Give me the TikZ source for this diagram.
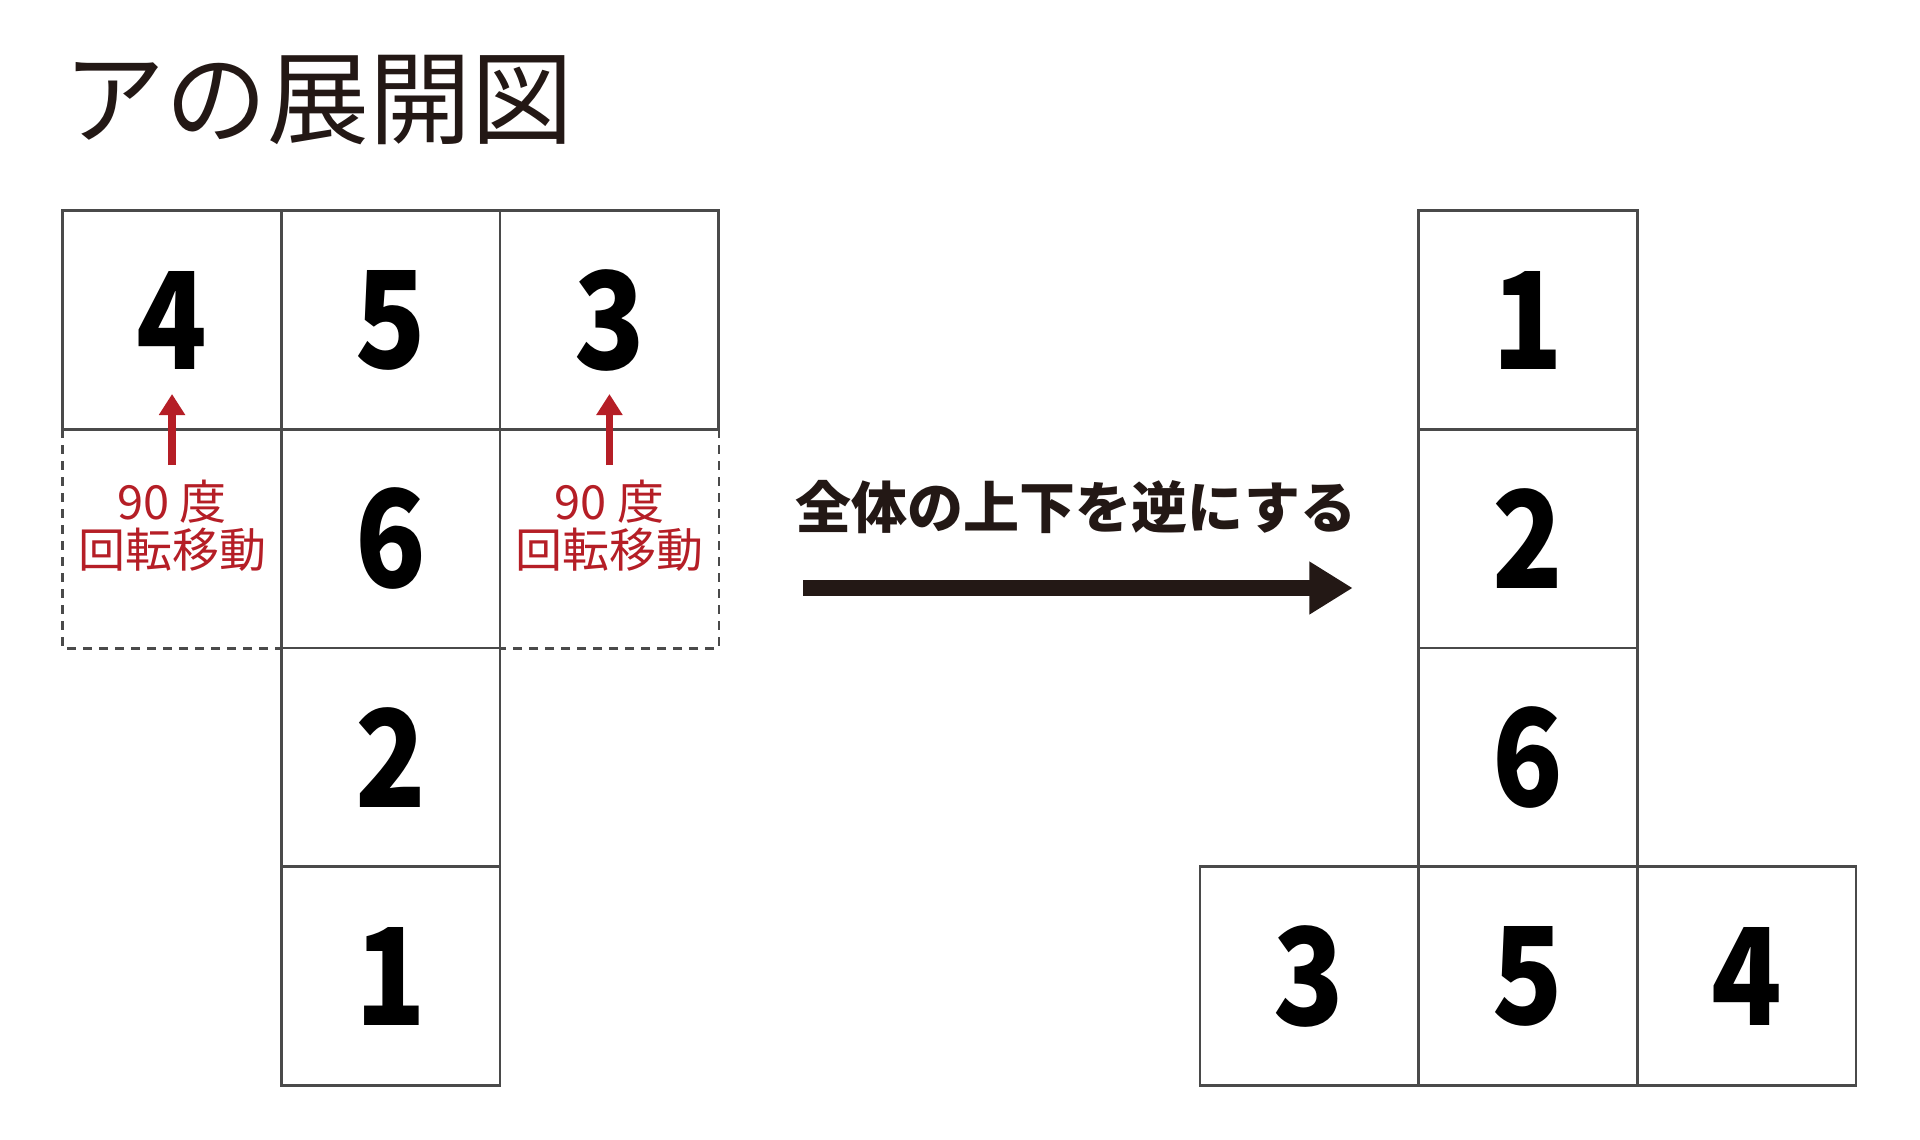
\documentclass[tikz,border=0pt]{standalone}
\usepackage{fontspec}
\setmainfont{Noto Sans CJK JP}
\usetikzlibrary{arrows.meta}
\definecolor{ink}{RGB}{35,24,21}
\definecolor{gridc}{RGB}{74,74,74}
\definecolor{redc}{RGB}{181,30,38}
\newcommand{\dig}[1]{\scalebox{0.86}[1]{#1}}
\begin{document}
\begin{tikzpicture}[x=1pt,y=-1pt,
  cell/.style={draw=gridc,line width=2.7pt,minimum size=218.7pt,inner sep=0pt,
    font=\fontsize{135}{135}\selectfont\bfseries,text=black},
  freecell/.style={minimum size=218.7pt,inner sep=0pt},
  dashedge/.style={draw=gridc,line width=2.7pt,dash pattern=on 9pt off 7pt},
  redlab/.style={text=redc,align=center,font=\fontsize{47}{48}\selectfont,inner sep=0pt},
  redarr/.style={draw=redc,line width=7.6pt,-{Triangle[length=21pt,width=25pt]}},
  bigarr/.style={draw=ink,line width=16pt,-{Triangle[length=43.4pt,width=50pt]}},
  title/.style={text=ink,font=\fontsize{102}{102}\selectfont,inner sep=0pt,anchor=west},
  biglab/.style={text=ink,font=\fontsize{56}{56}\selectfont\bfseries,inner sep=0pt}
]
\useasboundingbox[fill=white] (0,0) rectangle (1920,1140);

\node[title] (ttl) at (63,100) {アの展開図};

% left net
\node[cell] (L4) at (172.05,320.05) {\dig{4}};
\node[cell] (L5) at (390.75,320.05) {\dig{5}};
\node[cell] (L3) at (609.45,320.05) {\dig{3}};
\node[cell] (L6) at (390.75,538.75) {\dig{6}};
\node[cell] (L2) at (390.75,757.45) {\dig{2}};
\node[cell] (L1) at (390.75,976.15) {\dig{1}};
\node[freecell] (LA) at (172.05,538.75) {};
\node[freecell] (LB) at (609.45,538.75) {};
\draw[dashedge] (LA.north west) -- (LA.south west) -- (LA.south east);
\draw[dashedge] (LB.north east) -- (LB.south east) -- (LB.south west);

\node[redlab] (lab1) at (172.05,526) {90 度\\回転移動};
\node[redlab] (lab2) at (609.45,526) {90 度\\回転移動};
\coordinate (a1s) at (172.05,465);
\coordinate (a1e) at (172.05,394);
\coordinate (a2s) at (609.45,465);
\coordinate (a2e) at (609.45,394);
\draw[redarr] (a1s) -- (a1e);
\draw[redarr] (a2s) -- (a2e);

% middle arrow
\node[biglab] (flip) at (1076,507) {全体の上下を逆にする};
\coordinate (bs) at (803.3,588);
\coordinate (be) at (1352.7,588);
\draw[bigarr] (bs) -- (be);

% right net
\node[cell] (R1) at (1527.95,320.05) {\dig{1}};
\node[cell] (R2) at (1527.95,538.75) {\dig{2}};
\node[cell] (R6) at (1527.95,757.45) {\dig{6}};
\node[cell] (R3) at (1309.25,976.15) {\dig{3}};
\node[cell] (R5) at (1527.95,976.15) {\dig{5}};
\node[cell] (R4) at (1746.65,976.15) {\dig{4}};
\end{tikzpicture}
\end{document}
